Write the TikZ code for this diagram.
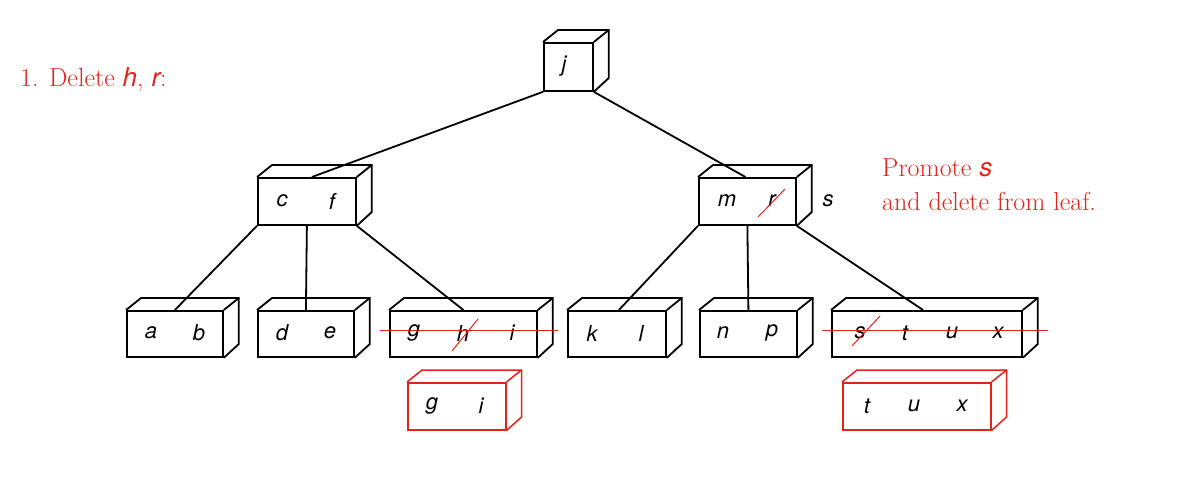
\documentclass[tikz,border=0pt]{standalone}
\usepackage{fontspec}
\newfontfamily\hv{TeX Gyre Heros}
\definecolor{rd}{RGB}{225,35,25}
\tikzset{
  box/.style={draw, line width=1.8pt, inner sep=0pt, anchor=north west},
  rbox/.style={box, draw=rd, line width=1.5pt},
  lt/.style={font=\hv\itshape\fontsize{22}{22}\selectfont, inner sep=0pt},
  edge/.style={line width=1.8pt},
  strike/.style={draw=rd, line width=1pt},
  note/.style={text=rd, font=\fontsize{26}{30}\selectfont, inner sep=0pt, anchor=west, align=left}
}
\newcommand{\mycube}[6]{% name, x1,y1,x2,y2, style
  \node[#6, minimum width=#4pt-#2pt, minimum height=#5pt-#3pt] (#1) at (#2,#3) {};
  \draw[#6] (#1.north west) -- ++(15,-12) -- ++(#4-#2,0) -- ($(#1.north east)+(15,-12)$) -- ++(0,#5-#3) -- (#1.south east);
  \draw[#6] (#1.north east) -- ++(15,-12);
}
\usetikzlibrary{calc}
\begin{document}
\begin{tikzpicture}[x=1pt,y=-1pt]
\useasboundingbox (0,0) rectangle (1182,488);
\mycube{j}{543}{42}{592}{90}{box}
\mycube{cf}{257}{177}{355}{224}{box}
\mycube{mr}{698}{177}{795}{224}{box}
\mycube{ab}{126}{310}{222}{356}{box}
\mycube{de}{257}{310}{353}{356}{box}
\mycube{ghi}{389}{310}{536}{356}{box}
\mycube{kl}{567}{310}{665}{356}{box}
\mycube{np}{699}{310}{796}{356}{box}
\mycube{stux}{831}{310}{1021}{356}{box}
\mycube{gi}{407}{382}{505}{429}{rbox}
\mycube{tux}{842}{382}{990}{429}{rbox}
% letters
\node[lt] (lj) at (564,66) {j};
\node[lt] (lc) at (282,201) {c}; \node[lt] (lf) at (332,201) {f};
\node[lt] (lm) at (727,201) {m}; \node[lt] (lr) at (772,201) {r};
\node[lt] (ls) at (828,201) {s};
\node[lt] (la) at (151,333) {a}; \node[lt] (lb) at (199,333) {b};
\node[lt] (ld) at (282,333) {d}; \node[lt] (le) at (330,333) {e};
\node[lt] (lg) at (414,333) {g}; \node[lt] (lh) at (463,333) {h}; \node[lt] (li) at (512,333) {i};
\node[lt] (lk) at (592,333) {k}; \node[lt] (ll) at (641,333) {l};
\node[lt] (ln) at (723,333) {n}; \node[lt] (lp) at (772,333) {p};
\node[lt] (ls2) at (860,333) {s}; \node[lt] (lt1) at (905,333) {t}; \node[lt] (lu) at (952,333) {u}; \node[lt] (lx) at (998,333) {x};
\node[lt] (lg2) at (432,406) {g}; \node[lt] (li2) at (481,406) {i};
\node[lt] (lt2) at (867,406) {t}; \node[lt] (lu2) at (914,406) {u}; \node[lt] (lx2) at (962,406) {x};
% edges
\draw[edge] (j.south west) -- ($(cf.north west)!0.55!(cf.north east)$);
\draw[edge] (j.south east) -- ($(mr.north west)!0.48!(mr.north east)$);
\draw[edge] (cf.south west) -- ($(ab.north west)!0.5!(ab.north east)$);
\draw[edge] (cf.south) -- (de.north);
\draw[edge] (cf.south east) -- ($(ghi.north west)!0.5!(ghi.north east)$);
\draw[edge] (mr.south west) -- ($(kl.north west)!0.52!(kl.north east)$);
\draw[edge] (mr.south) -- (np.north);
\draw[edge] (mr.south east) -- ($(stux.north west)!0.48!(stux.north east)$);
% strikes
\coordinate (g1) at (380,330); \coordinate (g2) at (558,330);
\draw[strike] (g1) -- (g2);
\coordinate (s1) at (822,330); \coordinate (s2) at (1048,330);
\draw[strike] (s1) -- (s2);
\draw[strike] ($(lh)+(-11,18)$) -- ($(lh)+(15,-14)$);
\draw[strike] ($(lr)+(-14,16)$) -- ($(lr)+(13,-12)$);
\draw[strike] ($(ls2)+(-8,13)$) -- ($(ls2)+(20,-17)$);
% notes
\node[note] (n1) at (20,80) {1. Delete {\hv\itshape h}, {\hv\itshape r}:};
\node[note] (n2) at (882,168) {Promote {\hv\itshape s}};
\node[note] (n3) at (882,201) {and delete from leaf.};
\end{tikzpicture}
\end{document}
